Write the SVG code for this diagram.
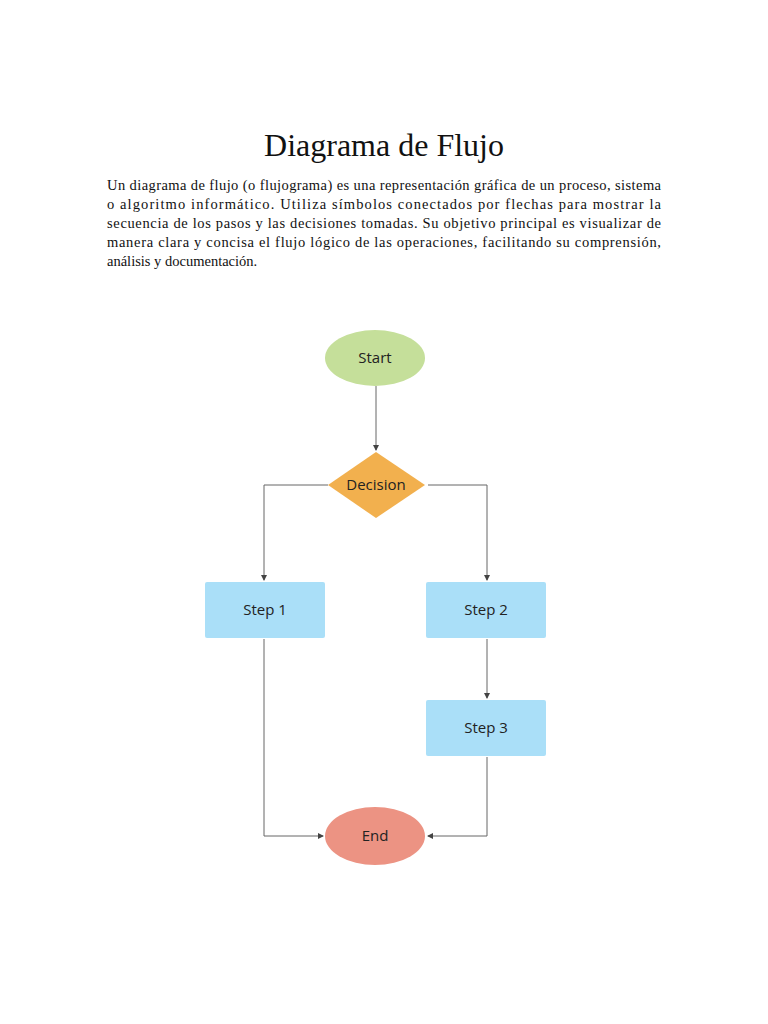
<svg xmlns="http://www.w3.org/2000/svg" width="768" height="1024" viewBox="0 0 768 1024">
<style>
.t{font-family:"Liberation Serif",serif;fill:#111}
.p{font-size:14.5px}
.n{font-family:"Open Sans","Liberation Sans",sans-serif;font-size:15px;fill:#222;text-anchor:middle}
.c{fill:none;stroke:#666;stroke-width:1}
</style>
<defs><marker id="a" markerWidth="6" markerHeight="6" refX="5" refY="3" orient="auto" markerUnits="userSpaceOnUse"><path d="M0,0L6,3L0,6z" fill="#444"/></marker></defs>
<rect width="768" height="1024" fill="#fff"/>
<text class="t" x="384" y="156" font-size="32" text-anchor="middle">Diagrama de Flujo</text>
<text class="t p" x="107" y="190" textLength="554" lengthAdjust="spacing">Un diagrama de flujo (o flujograma) es una representación gráfica de un proceso, sistema</text>
<text class="t p" x="107" y="209" textLength="554" lengthAdjust="spacing">o algoritmo informático. Utiliza símbolos conectados por flechas para mostrar la</text>
<text class="t p" x="107" y="228" textLength="554" lengthAdjust="spacing">secuencia de los pasos y las decisiones tomadas. Su objetivo principal es visualizar de</text>
<text class="t p" x="107" y="247" textLength="554" lengthAdjust="spacing">manera clara y concisa el flujo lógico de las operaciones, facilitando su comprensión,</text>
<text class="t p" x="107" y="266">análisis y documentación.</text>
<g id="connectors">
<path class="c" d="M376,386V450" marker-end="url(#a)"/>
<path class="c" d="M328,485H264V580" marker-end="url(#a)"/>
<path class="c" d="M428,485H487V580" marker-end="url(#a)"/>
<path class="c" d="M487,639V698" marker-end="url(#a)"/>
<path class="c" d="M264,639V836H323" marker-end="url(#a)"/>
<path class="c" d="M487,757V836H428" marker-end="url(#a)"/>
</g>
<g id="start"><ellipse cx="375" cy="358" rx="50" ry="28" fill="#c5df9a"/><text class="n" x="375" y="363">Start</text></g>
<g id="decision"><path d="M376,452L425,485L376,518L328,485z" fill="#f2b04e"/><text class="n" x="376" y="490">Decision</text></g>
<g id="step1"><rect x="205" y="582" width="120" height="56" rx="2" fill="#aadff8"/><text class="n" x="265" y="615">Step 1</text></g>
<g id="step2"><rect x="426" y="582" width="120" height="56" rx="2" fill="#aadff8"/><text class="n" x="486" y="615">Step 2</text></g>
<g id="step3"><rect x="426" y="700" width="120" height="56" rx="2" fill="#aadff8"/><text class="n" x="486" y="733">Step 3</text></g>
<g id="end"><ellipse cx="375" cy="836" rx="50" ry="29" fill="#ec9383"/><text class="n" x="375" y="841">End</text></g>
</svg>
